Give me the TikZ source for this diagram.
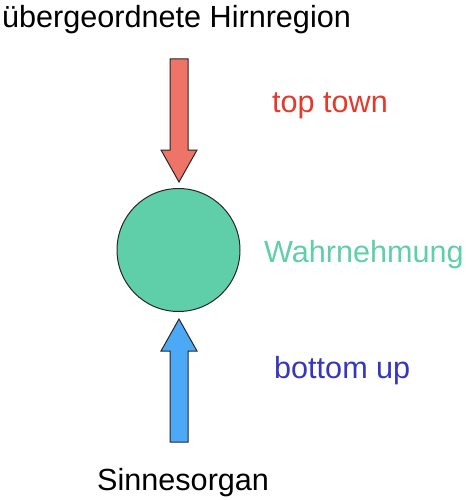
\documentclass[tikz,border=0pt]{standalone}
\usepackage{fontspec}
\setmainfont{Liberation Sans}
\definecolor{arrred}{HTML}{EF7468}
\definecolor{arrblue}{HTML}{4DA8F5}
\definecolor{circgreen}{HTML}{5ECFA9}
\definecolor{txtred}{HTML}{E5392C}
\definecolor{txtblue}{HTML}{3535BE}
\definecolor{txtgreen}{HTML}{5ECFA9}
\begin{document}
\begin{tikzpicture}[x=1pt,y=-1pt,
  lbl/.style={anchor=base west,inner sep=0pt,font=\fontsize{30.6}{36}\selectfont},
  arr/.style={draw=black!85,line width=1pt,line join=miter}]
\useasboundingbox (0,0) rectangle (467,500);
% arrows
\draw[arr,fill=arrred] (170,59) -- (188,59) -- (188,150) -- (197,150) -- (179,182) -- (161,150) -- (170,150) -- cycle;
\draw[arr,fill=arrblue] (179,319) -- (197,351) -- (188,351) -- (188,442) -- (170,442) -- (170,351) -- (161,351) -- cycle;
% circle
\node[draw=black!85,line width=1pt,fill=circgreen,circle,minimum size=123pt,inner sep=0pt] (wahr) at (178.5,250) {};
% labels
\node[lbl] (top) at (2,28) {übergeordnete Hirnregion};
\node[lbl,text=txtred] (td) at (272,113) {top town};
\node[lbl,text=txtgreen] (wl) at (264,262) {Wahrnehmung};
\node[lbl,text=txtblue] (bu) at (274,378) {bottom up};
\node[lbl] (sin) at (97,490) {Sinnesorgan};
\end{tikzpicture}
\end{document}
